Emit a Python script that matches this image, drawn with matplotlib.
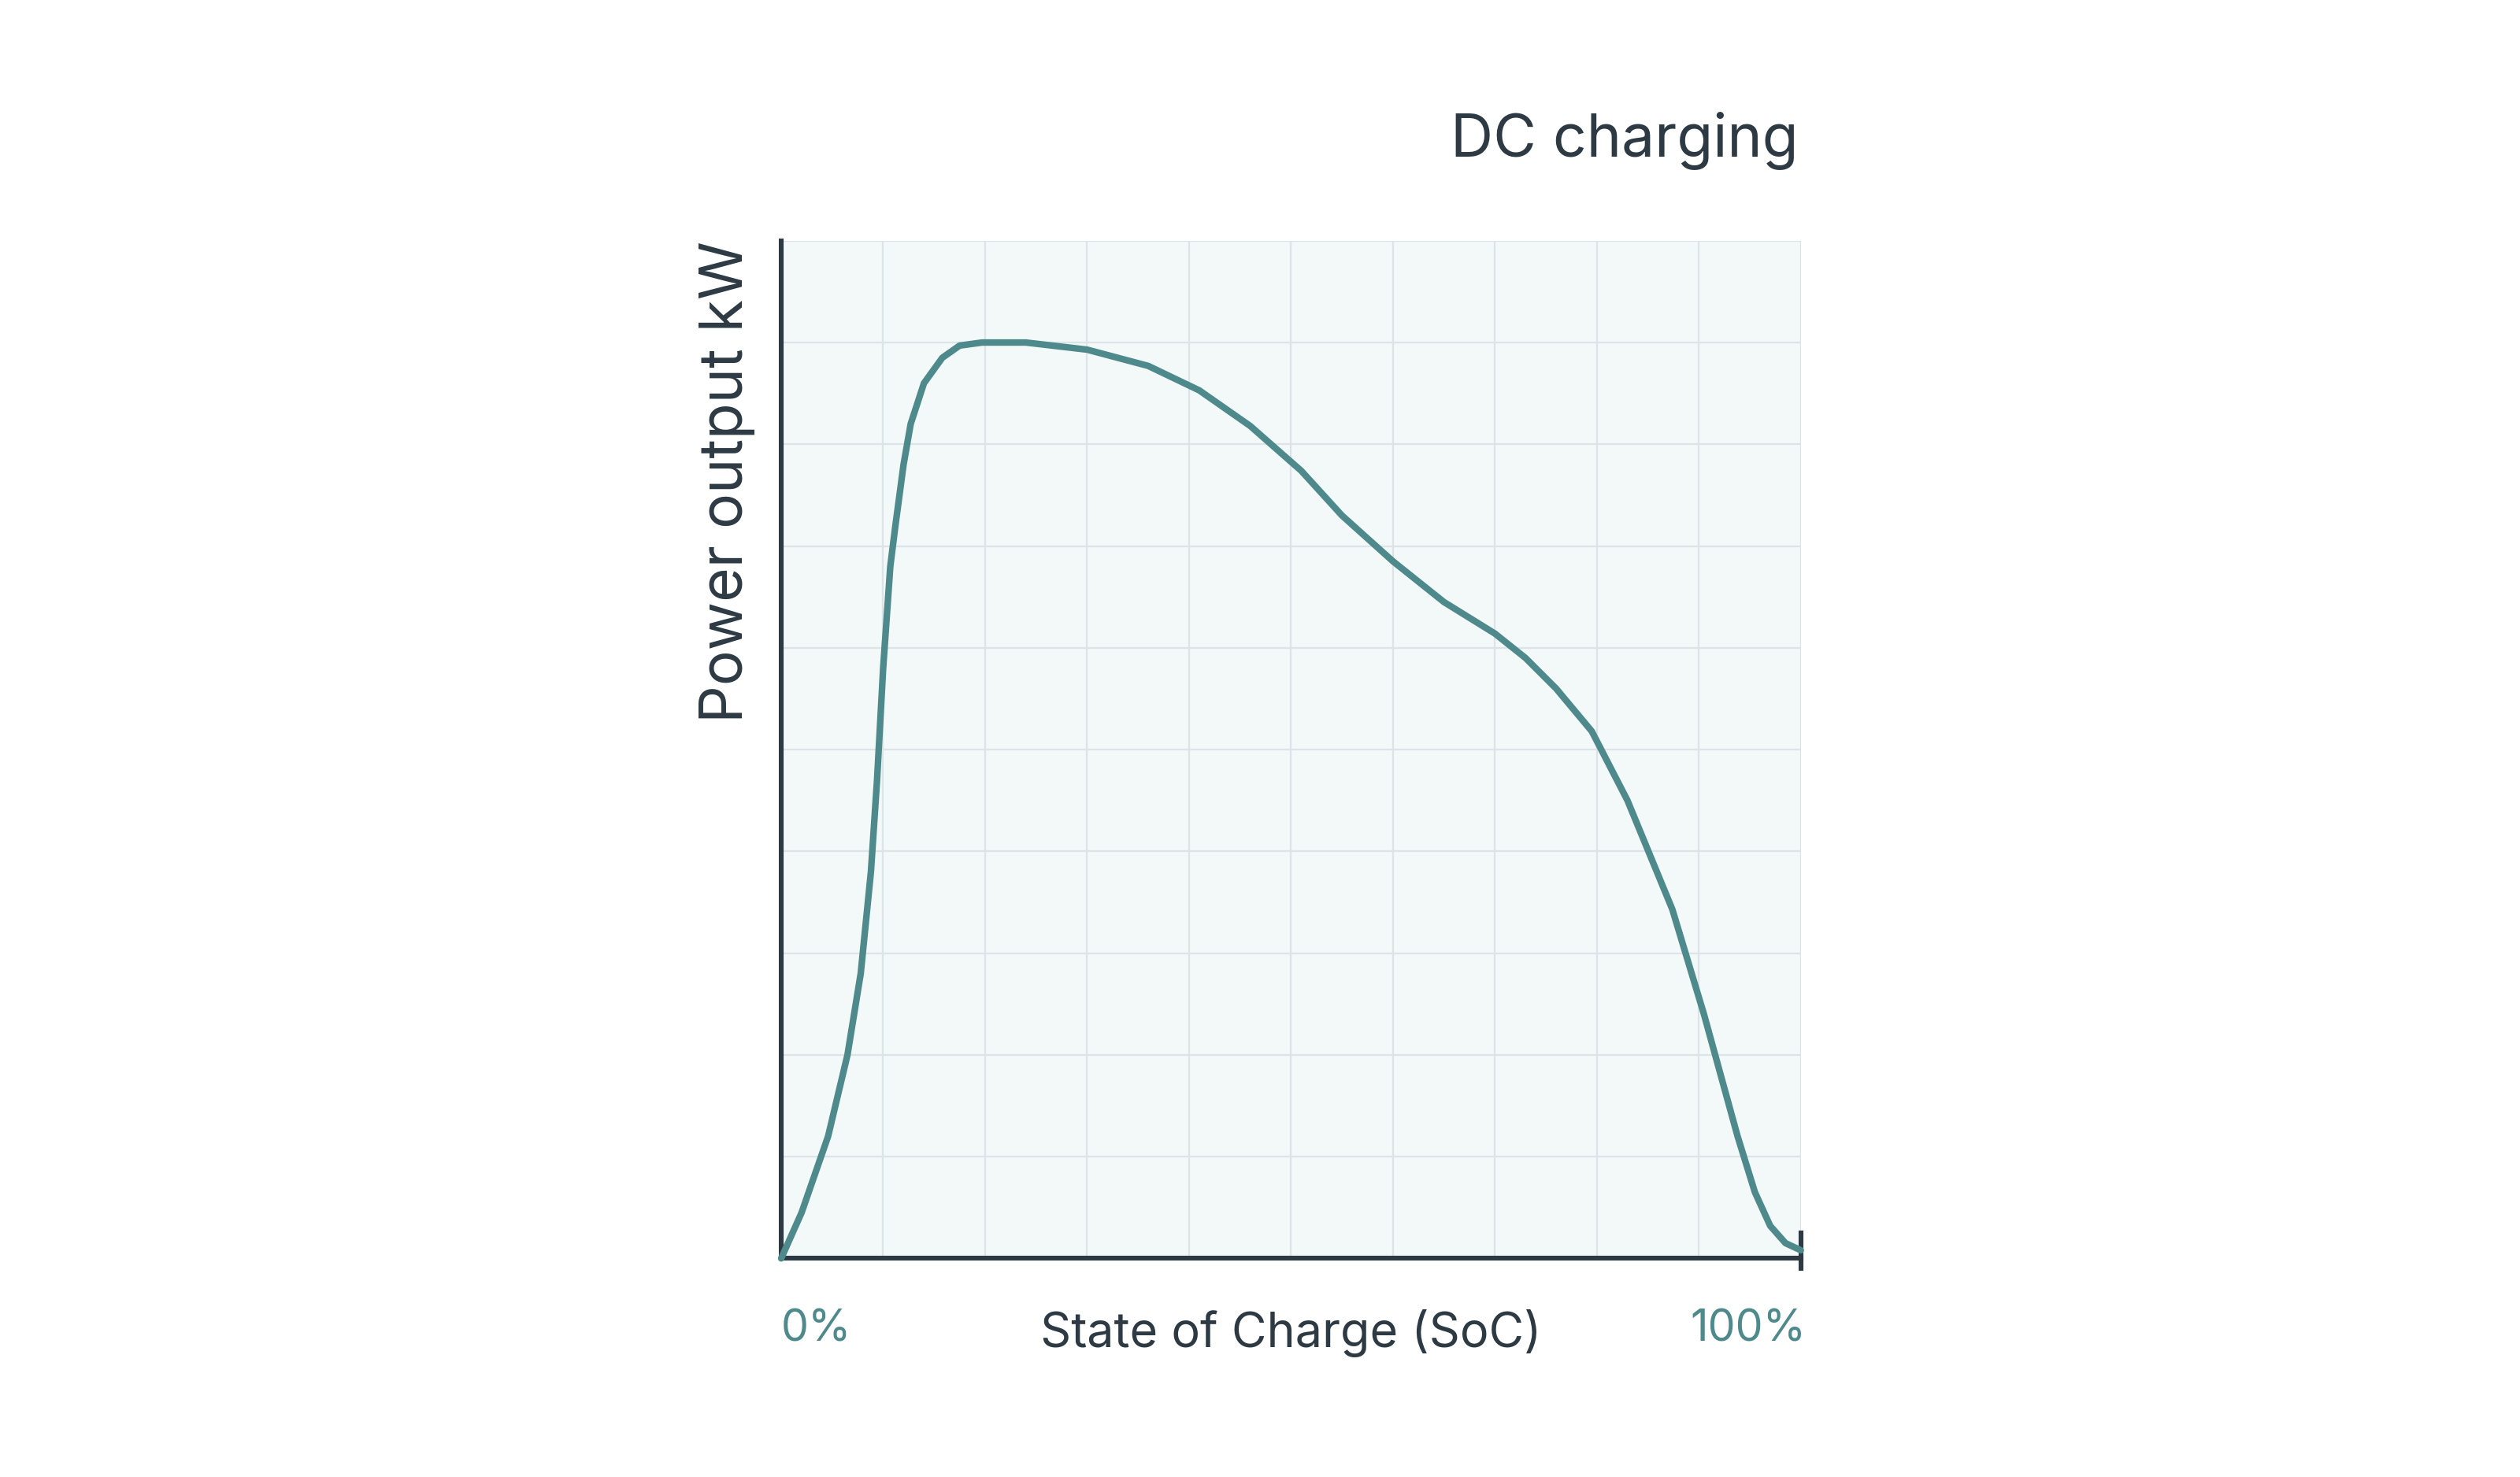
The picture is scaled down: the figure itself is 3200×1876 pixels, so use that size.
import matplotlib
matplotlib.use("Agg")
import matplotlib.pyplot as plt

soc = [0, 2, 4.6, 6.5, 7.8, 8.8, 9.4, 10.0, 10.7, 11.2, 12.0, 12.7, 14.0, 15.8, 17.5, 19.7, 24, 30, 36, 41, 46, 51, 55, 60, 65, 70, 73, 76, 79.5, 83, 87.4, 90.5, 93.8, 95.5, 97, 98.5, 100]
power = [0, 0.45, 1.2, 2.0, 2.8, 3.8, 4.7, 5.8, 6.8, 7.2, 7.8, 8.2, 8.6, 8.85, 8.97, 9.0, 9.0, 8.93, 8.77, 8.53, 8.18, 7.74, 7.3, 6.85, 6.45, 6.14, 5.9, 5.6, 5.18, 4.5, 3.43, 2.4, 1.2, 0.65, 0.32, 0.15, 0.08]

plt.rcParams['font.family'] = ['Inter', 'DejaVu Sans']
fig = plt.figure(figsize=(16, 9.38), dpi=200)
ax = fig.add_axes([0.310, 0.148, 0.4046, 0.689])
ax.set_facecolor('#f3f8f9')
ax.plot(soc, power, color='#4e8a8c', lw=3.0, solid_capstyle='round', clip_on=False, zorder=3)
ax.set_xlim(0, 100)
ax.set_ylim(0, 10)
ax.set_xticks(range(0, 101, 10))
ax.set_yticks(range(0, 11, 1))
ax.grid(True, color='#dde4e7', lw=0.8)
ax.tick_params(length=0, labelbottom=False, labelleft=False)
for s in ['top', 'right']:
    ax.spines[s].set_visible(False)
for s in ['left', 'bottom']:
    ax.spines[s].set_color('#2d3a44')
    ax.spines[s].set_linewidth(2.2)
ax.plot([100, 100], [-0.1, 0.25], color='#2d3a44', lw=2.2, clip_on=False)
ax.set_ylabel('Power output kW', fontsize=27, color='#2d3a44', labelpad=12, loc='top')
ax.text(0.5, -0.05, 'State of Charge (SoC)', transform=ax.transAxes, ha='center', va='top', fontsize=22, color='#2d3a44')
ax.text(0.0, -0.05, '0%', transform=ax.transAxes, ha='left', va='top', fontsize=20, color='#4e8a8c')
ax.text(1.005, -0.05, '100%', transform=ax.transAxes, ha='right', va='top', fontsize=20, color='#4e8a8c')
fig.text(0.7135, 0.905, 'DC charging', ha='right', va='center', fontsize=27, color='#2d3a44')
fig.savefig('out.png', dpi=200, facecolor='white')
